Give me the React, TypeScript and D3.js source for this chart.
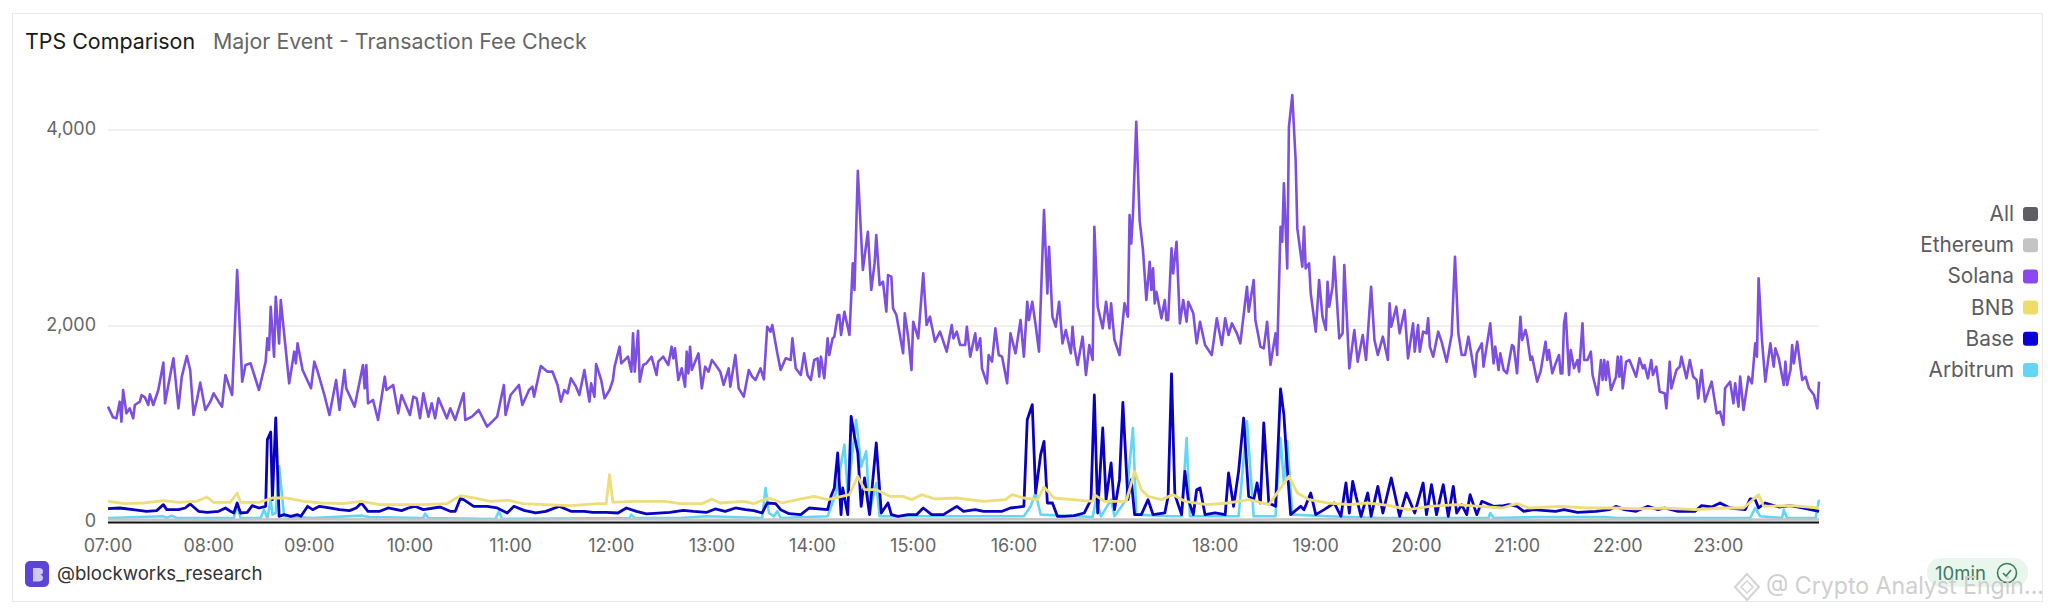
import React from "react";
import * as d3 from "d3";

type Pt = [number, number];

// every series is [minutes since 07:00, TPS]
const solana: Pt[] = [[0,1177],[3,1068],[5,1058],[7,1228],[8,1024],[9,1347],[11,1109],[13,1160],[15,1058],[16,1194],[19,1228],[20,1296],[22,1272],[24,1194],[25,1303],[27,1194],[30,1347],[33,1626],[34,1211],[36,1398],[39,1670],[42,1160],[44,1483],[47,1694],[49,1551],[51,1092],[53,1245],[55,1422],[58,1143],[61,1228],[63,1313],[66,1228],[68,1177],[70,1500],[74,1296],[77,2571],[80,1432],[82,1602],[85,1619],[90,1347],[94,1636],[95,1874],[96,1755],[97,2197],[99,1687],[100,2299],[102,1823],[103,2265],[105,1925],[108,1415],[111,1738],[112,1619],[113,1823],[116,1551],[121,1364],[123,1636],[125,1534],[129,1296],[132,1092],[136,1449],[138,1143],[141,1551],[142,1364],[147,1177],[152,1602],[153,1364],[154,1602],[155,1211],[158,1245],[161,1041],[165,1483],[166,1347],[170,1398],[173,1109],[175,1296],[180,1092],[182,1279],[184,1262],[186,1058],[188,1313],[191,1075],[193,1211],[195,1058],[197,1262],[202,1058],[204,1160],[207,1041],[212,1313],[213,1041],[217,1075],[221,1143],[226,973],[229,1024],[232,1075],[236,1398],[237,1092],[240,1296],[245,1398],[247,1194],[251,1347],[253,1381],[254,1279],[258,1592],[262,1534],[265,1534],[268,1398],[270,1228],
[272,1347],[274,1313],[276,1466],[279,1381],[281,1296],[284,1551],[287,1228],[288,1415],[290,1279],[291,1612],[294,1449],[296,1262],[299,1347],[301,1449],[302,1585],[305,1789],[306,1619],[310,1687],[312,1534],[313,1925],[314,1534],[316,1952],[317,1432],[319,1602],[321,1619],[324,1687],[327,1500],[328,1636],[331,1687],[334,1602],[336,1789],[337,1670],[338,1772],[340,1449],[342,1568],[344,1381],[345,1738],[346,1517],[347,1789],[348,1551],[350,1636],[352,1721],[354,1364],[356,1585],[358,1534],[360,1653],[363,1585],[365,1534],[367,1398],[370,1568],[371,1381],[374,1704],[376,1364],[379,1279],[382,1551],[384,1483],[386,1449],[389,1568],[391,1456],[393,1993],[395,1942],[396,2010],[399,1721],[401,1551],[404,1670],[407,1653],[408,1874],[410,1568],[413,1500],[415,1721],[417,1500],[419,1449],[421,1653],[423,1670],[424,1483],[425,1687],[427,1466],[429,1874],[430,1704],[432,1874],[433,1891],[435,2112],[436,2112],[437,1908],[439,2146],[442,1908],[444,2639],[445,2367],[447,3584],[450,2571],[453,2962],[455,2367],[457,2639],[458,2928],[460,2418],[462,2452],[464,2146],[465,2520],[467,2503],[468,2180],[470,2112],[474,1721],[475,2129],[477,1891],[479,1551],[480,2044],[483,1874],[486,2537],[488,2010],[490,2095],[493,1840],[496,1942],[500,1738],[503,2010],[504,1874],[506,1942],[508,1806],[511,1806],[512,1993],[514,1687],[517,1925],[518,1755],[520,1874],[521,1568],[524,1415],[525,1704],[527,1636],[529,1976],[531,1704],[533,1687],[536,1415],[538,1925],[541,1721],[544,2061],[546,1687],[548,2248],[549,2061],[551,2248],[553,2010],[555,1738],
[558,3183],[560,2333],[561,2809],[563,2095],[565,1993],[567,2248],[569,1823],[571,1959],[574,1721],[575,1993],[576,1789],[578,1602],[581,1891],[583,1500],[585,1806],[587,1653],[588,3013],[590,2197],[593,1976],[595,2248],[597,1976],[598,2231],[600,1857],[603,1704],[606,2231],[608,2095],[609,3132],[610,2843],[611,3132],[613,4084],[615,3081],[617,2775],[619,2265],[621,2656],[622,2367],[623,2588],[624,2231],[625,2350],[628,2078],[630,2265],[631,2061],[632,2061],[634,2792],[635,2537],[637,2860],[639,2027],[641,2265],[643,2044],[644,2248],[647,2129],[649,1823],[651,2044],[654,1806],[658,1704],[661,2078],[664,1806],[666,2078],[668,1908],[670,2027],[673,1925],[675,1823],[679,2401],[680,2146],[683,2469],[684,2061],[687,1789],[689,1772],[691,2044],[693,1602],[696,1925],[697,1704],[699,3013],[700,2860],[701,3455],[702,3013],[703,2588],[704,4033],[706,4356],[708,3693],[709,2996],[712,2605],[713,3013],[714,2588],[716,2639],[717,2333],[720,1942],[722,2469],[724,2095],[726,1959],[727,2452],[728,2197],[730,2401],[731,2707],[734,1874],[736,1925],[737,2622],[740,1568],[743,1959],[745,1636],[748,1908],[750,1653],[753,2401],[755,1857],[757,1704],[760,1891],[763,1653],[764,2231],[765,1993],[768,2197],[770,1925],[773,2163],[775,1670],[778,2027],[779,1738],[781,2010],[782,1738],[784,1942],[786,1925],[787,2078],[788,1789],[790,1687],[793,1942],[795,1840],[798,1636],[801,1908],[803,2707],[805,1925],[807,1704],[809,1704],[811,1891],[812,1789],[815,1483],[816,1721],[819,1823],[820,1585],[824,2027],[826,1619],[827,1789],[829,1551],
[830,1721],[832,1551],[834,1517],[837,1806],[838,1789],[840,1517],[842,2095],[843,1857],[845,1959],[846,1891],[848,1653],[849,1687],[852,1432],[854,1534],[857,1840],[858,1653],[859,1755],[861,1517],[863,1619],[865,1704],[866,1517],[867,1517],[868,2027],[869,2129],[871,1500],[872,1755],[874,1568],[876,1653],[877,1534],[879,2027],[880,1653],[882,1653],[884,1738],[885,1500],[888,1296],[890,1653],[891,1449],[892,1653],[893,1449],[894,1636],[896,1347],[899,1483],[900,1687],[901,1483],[902,1687],[903,1364],[905,1636],[907,1653],[909,1568],[911,1483],[913,1670],[915,1568],[916,1602],[918,1466],[920,1653],[921,1500],[923,1585],[925,1330],[928,1313],[929,1160],[931,1636],[932,1364],[935,1551],[937,1585],[938,1687],[941,1466],[943,1653],[945,1483],[947,1449],[948,1262],[950,1551],[952,1228],[956,1432],[959,1109],[961,1126],[963,990],[964,1364],[967,1432],[969,1211],[970,1415],[972,1177],[973,1483],[975,1143],[978,1483],[980,1415],[982,1823],[983,1687],[984,2486],[986,1857],[988,1432],[991,1823],[993,1585],[994,1772],[996,1670],[999,1398],[1000,1636],[1001,1398],[1003,1551],[1004,1806],[1005,1619],[1007,1840],[1010,1449],[1012,1483],[1014,1364],[1017,1296],[1019,1160],[1020,1432]];

const base: Pt[] = [[0,136],[7,143],[15,126],[23,109],[29,116],[33,177],[35,126],[42,126],[46,143],[49,184],[54,109],[59,99],[66,109],[70,143],[73,109],[75,92],[77,194],[79,92],[83,99],[86,167],[90,143],[94,160],[95,840],[97,918],[98,228],[100,1061],[102,58],[105,75],[109,58],[113,75],[115,58],[119,160],[122,126],[126,160],[132,143],[138,126],[144,116],[148,143],[151,194],[155,109],[162,109],[167,143],[175,116],[179,143],[183,160],[188,126],[198,153],[204,109],[207,109],[210,238],[212,228],[218,160],[226,160],[232,143],[238,92],[242,160],[248,119],[255,92],[261,109],[269,160],[276,109],[284,109],[289,99],[297,99],[304,92],[309,143],[315,109],[321,82],[335,99],[343,119],
[349,109],[357,99],[362,133],[368,109],[374,143],[380,126],[385,116],[390,92],[393,194],[398,187],[401,126],[406,85],[413,75],[418,143],[429,126],[431,262],[433,347],[435,704],[437,75],[438,347],[441,75],[443,1078],[445,874],[447,704],[449,160],[451,449],[454,75],[458,806],[461,92],[465,194],[467,75],[471,58],[477,75],[482,75],[486,143],[491,75],[498,75],[506,160],[510,109],[517,126],[522,109],[533,109],[538,143],[546,160],[548,1044],[551,1197],[553,296],[556,687],[558,823],[560,194],[563,194],[566,58],[570,58],[576,65],[582,92],[586,228],[588,1296],[590,92],[593,959],[595,228],[598,602],[600,126],[603,432],[605,1220],[608,228],[610,432],[612,75],[616,75],[620,228],[623,75],[630,92],[632,262],[634,1510],[636,279],[640,75],[642,517],[644,228],[647,75],[649,330],[651,347],[654,75],[660,92],[666,75],[668,500],[671,160],[674,517],[677,1061],[680,262],[683,228],[685,398],[687,194],[689,1010],[692,194],[696,160],[699,1357],[701,1095],[703,551],[705,75],[711,160],[713,126],[717,296],[720,75],[725,126],[731,194],[735,58],[738,398],[740,92],[742,415],[744,262],[747,58],[751,296],[753,58],[757,364],
[760,92],[765,449],[770,58],[774,296],[779,92],[784,398],[786,75],[789,381],[792,75],[796,381],[799,58],[802,364],[804,92],[807,177],[810,75],[812,279],[816,75],[819,211],[826,160],[832,167],[835,177],[840,160],[844,109],[850,126],[855,119],[863,109],[868,126],[876,99],[887,109],[895,126],[899,160],[904,126],[911,109],[918,160],[924,126],[928,143],[936,109],[946,109],[950,167],[956,153],[961,194],[967,143],[976,126],[979,235],[982,228],[984,143],[988,194],[996,153],[1003,167],[1010,143],[1020,109]];

const bnb: Pt[] = [[0,211],[10,187],[21,194],[33,218],[42,201],[53,211],[59,255],[63,201],[73,201],[77,296],[79,201],[90,201],[98,245],[106,245],[117,211],[127,194],[140,187],[151,211],[162,177],[175,177],[188,177],[202,187],[210,269],[218,245],[228,211],[239,221],[247,187],[260,177],[276,167],[292,187],[297,187],[299,483],[301,201],[313,211],[332,211],
[341,187],[354,187],[360,235],[365,194],[379,211],[385,187],[394,245],[402,194],[413,235],[421,262],[429,228],[442,279],[447,466],[451,330],[458,330],[466,262],[474,262],[479,228],[485,279],[493,235],[506,245],[522,211],[535,228],[539,279],[546,245],[554,228],[558,357],[564,245],[575,228],[587,211],[588,279],[594,211],[607,211],[612,517],[616,330],[620,262],[628,228],[635,279],[642,211],[655,177],[668,194],[680,228],[692,177],[704,466],[709,296],[716,228],[727,194],[740,177],
[751,194],[764,167],[775,126],[788,160],[804,177],[818,160],[831,143],[840,187],[847,143],[866,160],[882,143],[898,143],[911,133],[927,143],[946,126],[964,143],[975,143],[984,279],[987,160],[1004,167],[1020,143]];

const arbitrum: Pt[] = [[0,41],[33,58],[35,41],[38,65],[41,41],[75,41],[77,177],[79,41],[91,41],[93,126],[95,41],[97,228],[98,75],[100,92],[102,568],[105,58],[122,41],[151,65],[156,51],[188,41],[189,85],[191,41],[231,31],[233,109],[235,31],[311,41],[312,75],[314,41],
[341,41],[357,58],[390,41],[392,347],[394,92],[397,58],[399,109],[401,41],[429,58],[434,296],[439,789],[441,296],[446,1043],[449,564],[452,721],[454,92],[458,398],[460,58],[546,58],[550,160],[553,296],[556,75],[587,51],[589,228],[592,58],[598,228],[600,58],[607,228],[611,959],[613,75],[634,58],[640,58],[643,857],[645,58],[674,58],[679,1027],[683,58],[696,58],[699,857],[701,398],[703,823],[706,75],[727,58],[758,41],
[823,41],[824,92],[826,41],[855,51],[892,51],[900,41],[979,41],[982,143],[985,58],[998,41],[999,126],[1001,41],[1018,41],[1020,228]];

const ethereum: Pt[] = [[0,26],[60,24],[120,28],[180,25],[240,23],[300,27],[360,24],[420,26],[480,25],[540,28],[600,26],[660,24],[720,27],[780,25],[840,23],[900,26],[960,24],[1020,25]];

const yTicks = [0, 2000, 4000];
const xHours = ["07:00", "08:00", "09:00", "10:00", "11:00", "12:00", "13:00", "14:00", "15:00", "16:00", "17:00", "18:00", "19:00", "20:00", "21:00", "22:00", "23:00"];

const legendNames = ["All", "Ethereum", "Solana", "BNB", "Base", "Arbitrum"];
const legendColors = ["#5f5f63", "#c4c4c4", "#8a48f0", "#eedd6b", "#0a00d9", "#63d6f5"];

const FONT = "Inter, sans-serif";

const width = 2052;
const height = 612;

export default function App() {
  const x = d3.scaleLinear().domain([0, 1020]).range([108, 1819]);
  const y = d3.scaleLinear().domain([0, 4000]).range([522, 130]);
  const line = d3
    .line<Pt>()
    .x((d) => x(d[0]))
    .y((d) => y(d[1]));

  return (
    <svg
      width={width}
      height={height}
      style={{ position: "absolute", left: 0, top: 0, background: "#fff", fontFamily: FONT }}
    >
      <rect x={12.5} y={13.5} width={2030} height={588} fill="#fff" stroke="#e8e8e8" />

      <text x={25} y={49} fontSize={21.4} fill="#1a1a1a">TPS Comparison</text>
      <text x={213} y={49} fontSize={21.4} fill="#666">Major Event - Transaction Fee Check</text>

      {yTicks.map((t) => (
        <g key={t}>
          {t > 0 && <line x1={108} x2={1819} y1={y(t)} y2={y(t)} stroke="#ececec" strokeWidth={1.5} />}
          <text x={96} y={y(t) + 5} textAnchor="end" fontSize={18} fill="#666">
            {d3.format(",")(t)}
          </text>
        </g>
      ))}

      {xHours.map((h, i) => (
        <text key={h} x={x(i * 60)} y={552} textAnchor="middle" fontSize={18} fill="#666">
          {h}
        </text>
      ))}

      <path d={line(solana) ?? ""} fill="none" stroke="#7d4fe0" strokeWidth={2.6} strokeLinejoin="round" />
      <path d={line(arbitrum) ?? ""} fill="none" stroke="#63d6f5" strokeWidth={2.6} strokeLinejoin="round" />
      <path d={line(base) ?? ""} fill="none" stroke="#0a00c0" strokeWidth={2.8} strokeLinejoin="round" />
      <path d={line(bnb) ?? ""} fill="none" stroke="#eedd7b" strokeWidth={2.8} strokeLinejoin="round" />
      <path d={line(ethereum) ?? ""} fill="none" stroke="#c4c4c4" strokeWidth={2.5} strokeLinejoin="round" />
      <line x1={108} x2={1819} y1={522.5} y2={522.5} stroke="#111" strokeWidth={2} />

      {legendNames.map((name, i) => {
        const cy = 214 + i * 31.2;
        return (
          <g key={name}>
            <text x={2014} y={cy + 7} textAnchor="end" fontSize={20.8} fill="#5c5c60">{name}</text>
            <rect x={2023} y={cy - 7} width={15} height={14} rx={3} fill={legendColors[i]} />
          </g>
        );
      })}

      {/* footer logo + handle */}
      <rect x={25} y={561} width={24} height={26} rx={5} fill="#5b45d6" />
      <path d="M33 568h6q4 0 4 3.5t-3 3q3 .5 3 3.5t-4 3.5h-6z" fill="#cfc8f5" />
      <text x={57} y={580} fontSize={18.6} fill="#333">@blockworks_research</text>

      {/* data freshness badge */}
      <rect x={1927} y={558} width={101} height={29} rx={14} fill="#e9f6ee" />
      <text x={1935} y={580} fontSize={18.5} fill="#3f7a5a">10min</text>
      <circle cx={2007} cy={573} r={9.5} fill="none" stroke="#3f7a5a" strokeWidth={1.6} />
      <path d="M2003 573l3 3 5-6" fill="none" stroke="#3f7a5a" strokeWidth={1.6} />

      {/* watermark */}
      <path d="M1747 574l12 13-12 13-12-13z" fill="none" stroke="#d4d4d4" strokeWidth={2} />
      <path d="M1747 581l6 6-6 6-6-6z" fill="none" stroke="#d4d4d4" strokeWidth={1.5} />
      <text x={1766} y={594} fontSize={24} fill="#cfcfcf" textLength={278} lengthAdjust="spacingAndGlyphs">
        @ Crypto Analyst Engin...
      </text>
    </svg>
  );
}
